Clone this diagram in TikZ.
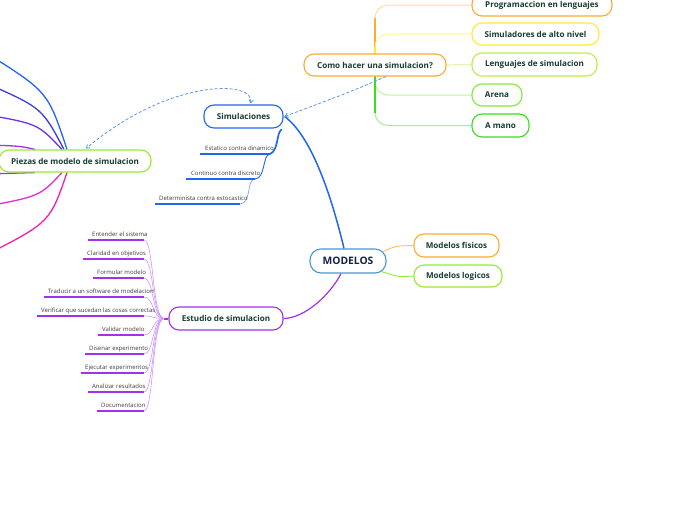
\documentclass[tikz,border=0pt]{standalone}
\usepackage{fontspec}
\setmainfont{Open Sans}
\usetikzlibrary{arrows.meta,backgrounds}
\definecolor{txt}{RGB}{22,62,46}
\definecolor{navy}{RGB}{20,35,70}
\definecolor{subtxt}{RGB}{60,60,60}
\definecolor{cblue}{RGB}{34,102,238}
\definecolor{cbluel}{RGB}{110,150,240}
\definecolor{cmodel}{RGB}{70,150,215}
\definecolor{corange}{RGB}{255,170,51}
\definecolor{corangel}{RGB}{255,220,170}
\definecolor{cyellow}{RGB}{255,235,50}
\definecolor{cyellowl}{RGB}{255,245,160}
\definecolor{cyg}{RGB}{190,238,70}
\definecolor{cygl}{RGB}{225,248,170}
\definecolor{cgreen}{RGB}{130,235,60}
\definecolor{cgreenl}{RGB}{190,245,150}
\definecolor{cgreen2}{RGB}{60,220,30}
\definecolor{cgreen2l}{RGB}{160,240,140}
\definecolor{clime}{RGB}{150,235,50}
\definecolor{cpurple}{RGB}{160,50,238}
\definecolor{cpurplel}{RGB}{205,150,255}
\definecolor{cdash}{RGB}{90,150,230}
\definecolor{cind}{RGB}{60,60,220}
\definecolor{cviol}{RGB}{110,50,230}
\definecolor{cmag}{RGB}{225,45,215}
\definecolor{cpink}{RGB}{245,30,175}
\newcommand\bxfont{\fontsize{8.1}{9}\selectfont\bfseries}
\newcommand\smfont{\fontsize{6}{7}\selectfont}
\begin{document}
\begin{tikzpicture}[x=1pt,y=-1pt,
  box/.style={draw, rounded corners=10pt, line width=1.1pt, fill=white, font=\bxfont, text=txt, inner sep=0pt, minimum height=22pt},
  sublabel/.style={font=\smfont, text=subtxt, inner sep=0pt, anchor=base west},
  dasharrow/.style={draw=cdash, dash pattern=on 3pt off 2pt, line width=0.8pt},
  dtip/.tip={Straight Barb[length=3pt,width=4.5pt]},
  ulS/.style={draw=cblue, line width=1.4pt},
  ulE/.style={draw=cpurple, line width=1.4pt},
  conE/.style={draw=cpurplel, line width=0.6pt}
]
\useasboundingbox (0,0) rectangle (696,520);
\clip (0,0) rectangle (696,520);

% main nodes
\node[box, draw=cmodel, text=navy, font=\fontsize{10.3}{12}\selectfont\bfseries, minimum width=76pt, minimum height=24pt, rounded corners=11pt] (M) at (348,261) {MODELOS};
\node[box, draw=corange, minimum width=85pt, minimum height=23pt] (F) at (456.5,245.5) {Modelos fisicos};
\node[box, draw=clime, minimum width=88pt] (L) at (458,276) {Modelos logicos};
\node[box, draw=cblue, minimum width=79pt, minimum height=23pt] (S) at (243.5,116.5) {Simulaciones};
\node[box, draw=corange, minimum width=142pt] (C) at (375,65) {Como hacer una simulacion?};
\node[box, draw=corange, minimum width=140pt] (P1) at (542,5) {Programaccion en lenguajes};
\node[box, draw=cyellow, minimum width=127pt] (P2) at (535.5,34) {Simuladores de alto nivel};
\node[box, draw=cyg, minimum width=125pt, minimum height=23pt] (P3) at (534.5,64.5) {Lenguajes de simulacion};
\node[box, draw=cgreen, minimum width=50pt] (P4) at (497,95) {Arena};
\node[box, draw=cgreen2, minimum width=57pt, minimum height=23pt] (P5) at (500.5,125.5) {A mano};
\node[box, draw=clime, minimum width=152pt] (PZ) at (75,161) {Piezas de modelo de simulacion};
\node[box, draw=cpurple, minimum width=114pt, minimum height=23pt] (E) at (226,318.5) {Estudio de simulacion};

% Simulaciones subtopics
\node[sublabel] (s1) at (205,150.5) {Estatico contra dinamico};
\node[sublabel] (s2) at (191,175.5) {Continuo contra discreto};
\node[sublabel] (s3) at (159,200.5) {Determinista contra estocastico};
\coordinate (s1l) at (200,154); \coordinate (s1r) at (270,154);
\coordinate (s2l) at (186,179); \coordinate (s2r) at (255,179);
\coordinate (s3l) at (155,204); \coordinate (s3r) at (240,204);
\draw[ulS] (s1l) -- (s1r);
\draw[ulS] (s2l) -- (s2r);
\draw[ulS] (s3l) -- (s3r);

% Estudio subtopics
\coordinate (hub) at (164,318.5);
\foreach \i/\l/\y/\t in {1/88/240/Entender el sistema, 2/83/259/Claridad en objetivos, 3/93/278/Formular modelo, 4/44/297/Traducir a un software de modelacion, 5/37/316/Verificar que sucedan las cosas correctas, 6/98/335/Validar modelo, 7/85/354/Disenar experimento, 8/81/373/Ejecutar experimentos, 9/88/392/Analizar resultados, 10/97/411/Documentacion}{
  \node[sublabel] (e\i) at (\l+4,\y-4) {\t};
  \coordinate (e\i l) at (\l,\y);
  \coordinate (e\i r) at (144,\y);
  \draw[ulE] (e\i l) -- (e\i r);
}

% off-canvas ends of Piezas branches
\coordinate (z1) at (-12,54);
\coordinate (z2) at (-12,84);
\coordinate (z3) at (-12,115);
\coordinate (z4) at (-12,145);
\coordinate (z5) at (-12,174);
\coordinate (z6) at (-12,206);
\coordinate (z7) at (-12,254);

\begin{scope}[on background layer]
  % Como hacer branches
  \draw[corangel, line width=1pt, rounded corners=13pt] (C.center) |- (P1.west);
  \draw[corange, line width=1.8pt] (C.center) -- ([yshift=-13pt]C.center |- P1.west);
  \draw[cyellowl, line width=1pt, rounded corners=13pt] (C.center) |- (P2.west);
  \draw[cyellow, line width=1.8pt] (C.center) -- ([yshift=-13pt]C.center |- P2.west);
  \draw[cygl, line width=1.2pt] (C.east) -- (P3.west);
  \draw[cgreenl, line width=1pt, rounded corners=13pt] (C.center) |- (P4.west);
  \draw[cgreen, line width=1.8pt] (C.center) -- ([yshift=13pt]C.center |- P4.west);
  \draw[cgreen2l, line width=1pt, rounded corners=13pt] (C.center) |- (P5.west);
  \draw[cgreen2, line width=1.8pt] (C.center) -- ([yshift=13pt]C.center |- P5.west);

  % MODELOS links
  \draw[cblue, line width=1.5pt] ([xshift=-4pt]M.north) .. controls (330,190) and (310,135) .. ([xshift=1pt]S.east);
  \draw[cpurple, line width=1.2pt] ([xshift=-7pt]M.south) .. controls (330,295) and (305,318) .. (E.east);
  \draw[corange!75, line width=0.9pt] ([xshift=-3pt,yshift=-3pt]M.north east) .. controls (395,246) .. (F.west);
  \draw[clime, line width=0.9pt] ([xshift=-5pt,yshift=2pt]M.south east) .. controls (398,277) .. (L.west);

  % Simulaciones subtopic connectors
  \draw[cblue, line width=1.7pt, line cap=round] ([xshift=-2pt,yshift=-1pt]S.south east) .. controls (276,133) and (279,150) .. (s1r);
  \draw[cblue, line width=0.9pt] (s1r) .. controls (262,155) and (266,178) .. (s2r);
  \draw[cbluel, line width=0.6pt] (s2r) .. controls (246,180) and (252,203) .. (s3r);

  % Estudio connectors
  \draw[cpurple, line width=2pt] (hub) -- (E.west);
  \foreach \i in {1,...,10}{
    \draw[conE] (hub) .. controls (152,318.5) and (154,\i*19+221) .. (e\i r);
  }

  % Piezas branches
  \draw[cblue, line width=1.3pt] ([xshift=-8pt]PZ.north) .. controls (48,92) .. (z1);
  \draw[cind, line width=1.3pt] ([xshift=-11pt]PZ.north) .. controls (42,108) .. (z2);
  \draw[cviol, line width=1.3pt] ([xshift=-13pt]PZ.north) .. controls (38,124) .. (z3);
  \draw[cpurple, line width=1.3pt] ([xshift=-40pt]PZ.north) .. controls (20,146) .. (z4);
  \draw[cpurple, line width=1.3pt] ([xshift=-40pt]PZ.south) .. controls (20,173) .. (z5);
  \draw[cmag, line width=1.3pt] ([xshift=-13pt]PZ.south) .. controls (40,196) .. (z6);
  \draw[cpink, line width=1.3pt] ([xshift=-8pt]PZ.south) .. controls (50,222) .. (z7);
\end{scope}

% dashed relations
\draw[dasharrow, dtip-dtip] ([xshift=7pt,yshift=1pt]S.north) .. controls (255,80) and (170,78) .. ([xshift=11pt,yshift=1pt]PZ.north);
\draw[dasharrow, -dtip] ([xshift=11pt]C.south) .. controls (350,92) .. ([xshift=1pt]S.east);
\end{tikzpicture}
\end{document}
